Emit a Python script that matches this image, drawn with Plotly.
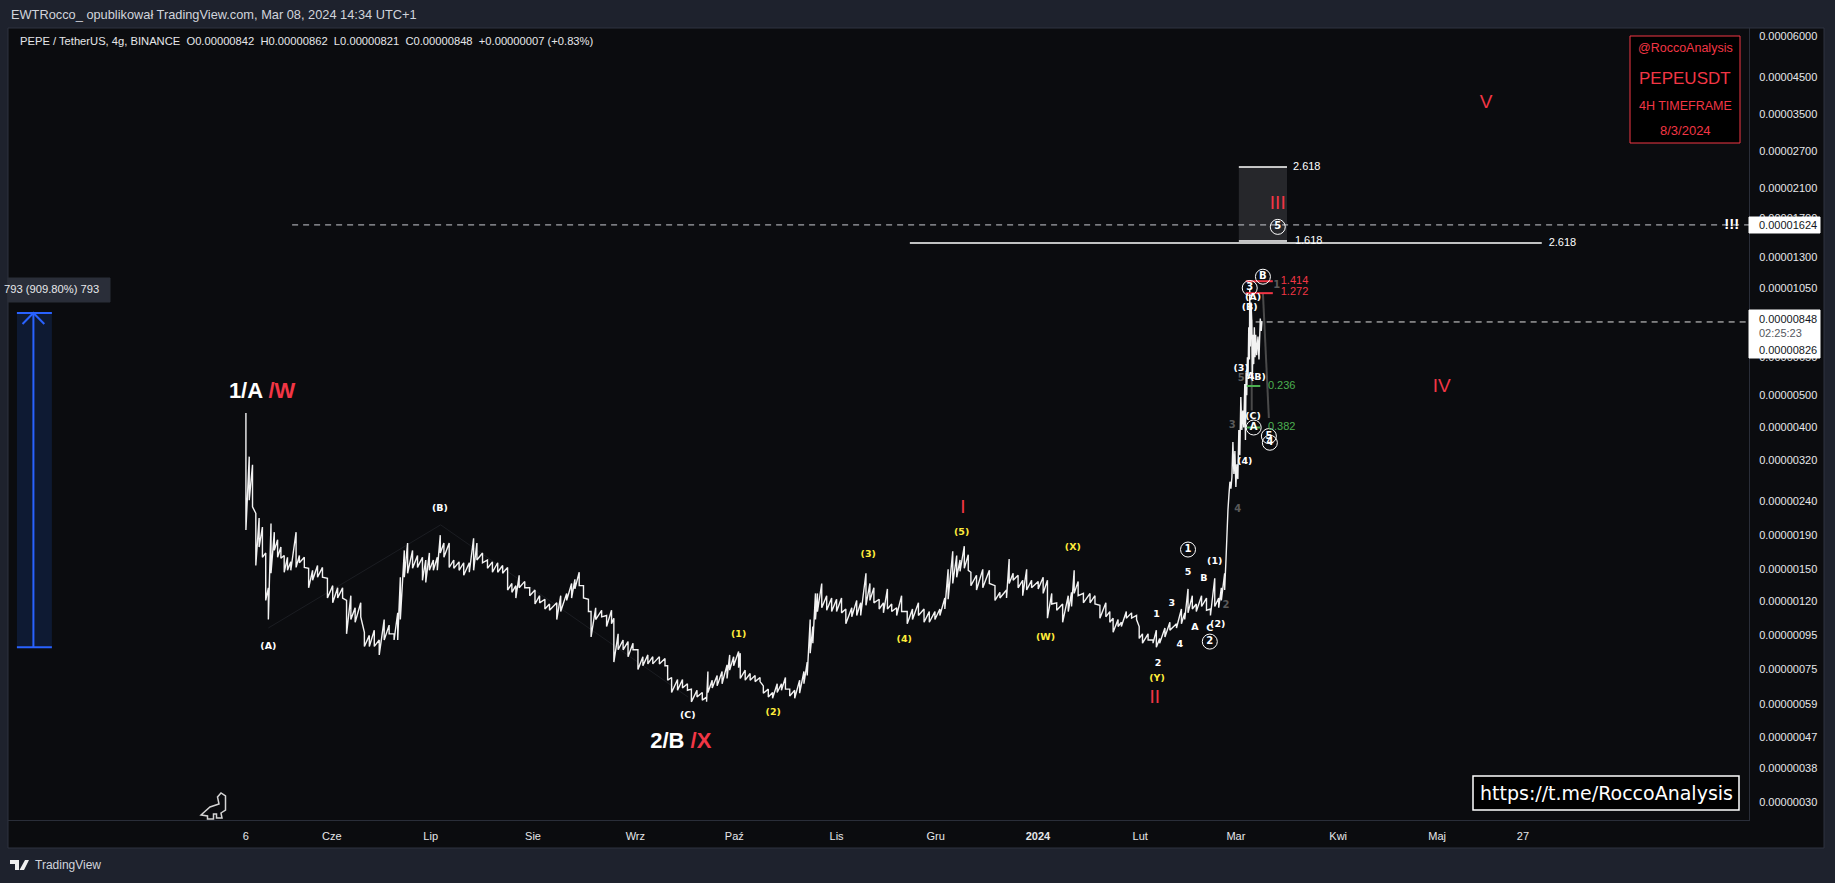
"""PEPE / TetherUS 4h Elliott wave chart, TradingView dark layout."""
import pandas as pd
import plotly.graph_objects as go

# Colors
PAGE_COLOR = "#1e222d"
PANEL_COLOR = "#0b0c0f"
AXIS_COLOR = "#2a2e39"
WHITE = "#ffffff"
TEXT = "#e6e7ea"
RED = "#f23645"
GREEN = "#4caf50"
YELLOW = "#ffeb3b"
BLUE = "#2962ff"
FONT = "Liberation Sans"
LABEL_FONT = "DejaVu Sans"

W, H = 1835, 883
PLOT_L, PLOT_R, PLOT_T, PLOT_B = 8, 1749, 28, 820

# all prices are in units of 0.00000001 USDT, days are counted from this date
BASE_DATE = pd.Timestamp("2023-05-06")
RANGE_DAYS = [-72.1, 455.5]
RANGE_LOG = [1.4232, 3.802]

tick_dates = ["2023-05-06", "2023-06-01", "2023-07-01", "2023-08-01", "2023-09-01", "2023-10-01", "2023-11-01",
              "2023-12-01", "2024-01-01", "2024-02-01", "2024-03-01", "2024-04-01", "2024-05-01", "2024-05-27"]
tick_names = ["6", "Cze", "Lip", "Sie", "Wrz", "Paź", "Lis", "Gru", "<b>2024</b>", "Lut", "Mar", "Kwi", "Maj", "27"]

price_ticks = [6000, 4500, 3500, 2700, 2100, 1700, 1300, 1050, 650, 500, 400, 320, 240, 190, 150, 120, 95, 75, 59, 47, 38, 30]
price_names = ["0.00006000", "0.00004500", "0.00003500", "0.00002700", "0.00002100", "0.00001700", "0.00001300",
               "0.00001050", "0.00000650", "0.00000500", "0.00000400", "0.00000320", "0.00000240", "0.00000190",
               "0.00000150", "0.00000120", "0.00000095", "0.00000075", "0.00000059", "0.00000047", "0.00000038",
               "0.00000030"]

# swing bars: day, high, low
bar_day = [0, 1, 2, 3, 4, 5, 6, 6.8, 7.6, 8.6, 9.6, 10.6, 11.6, 12.6, 13.6, 15.2, 16.2, 17.7, 19, 20.2, 21.7, 23.2,
           24.7, 26.3, 27.8, 29.3, 30.5, 31.8, 33.1, 34.8, 35.9, 37.4, 38.9, 40.4, 41.9, 43.4, 44.9, 46, 46.8, 48,
           49, 50.5, 52, 53.5, 54.5, 55.6, 56.8, 58, 58.9, 60, 61.6, 63, 64.6, 66, 67.7, 69, 70, 71.7, 73.2, 74.7,
           76.3, 77.8, 79.3, 80.6, 81.8, 82.8, 84.5, 86, 87.6, 89, 90.6, 92, 94.2, 95.4, 97.2, 98.7, 99.7, 101,
           102.3, 103.8, 104.6, 106, 107.8, 109.3, 110.8, 111.5, 112.8, 114.3, 115.8, 117.3, 118.8, 120.3, 121.8,
           123.3, 125.3, 127, 127.8, 129, 130.8, 132.3, 133.8, 135, 136.7, 138.3, 139.6, 140, 141.3, 142.8, 144.3,
           145.8, 146.6, 147.8, 149.3, 149.8, 151.3, 152.8, 154.3, 155.8, 156.8, 158.3, 159.6, 161, 162.3, 163.5,
           164.8, 166.3, 167.8, 169.1, 170.1, 171, 171.8, 172.6, 173.2, 174.5, 176, 177.5, 179, 180.5, 181.8, 183.6,
           185.1, 186.3, 187.9, 189.1, 190.3, 191.9, 193.2, 194.4, 195.7, 197.2, 198.7, 200.4, 202, 203.8, 205.5,
           207.1, 208.8, 210.3, 211.8, 212.8, 214.2, 215.4, 216.4, 217.7, 218.9, 219.7, 221.4, 223.3, 225.3, 227,
           228.5, 230.5, 231.3, 232.5, 234, 235.4, 236.6, 238.1, 240.1, 241.6, 242.9, 244.2, 245.7, 247.5, 249.2,
           250.2, 251, 252.2, 253.8, 255.8, 257.3, 258.8, 260.6, 261.8, 262.8, 264.3, 265.3, 266.8, 268.4, 269.9,
           270.7, 271.7, 273.4, 274.9, 275.9, 276.9, 278.5, 280, 282, 283.5, 284.5, 285.5, 286.8, 288, 289.6, 291.1,
           292.3, 293.6, 294.8, 295.6, 296.6]
bar_high = [442, 327, 309, 221, 214, 201, 168, 132, 206, 194, 184, 175, 165, 163, 158, 194, 165, 163, 151, 149, 154,
            152, 141, 134, 132, 132, 121, 125, 115, 119, 97, 95, 98.5, 92, 106, 102, 96, 111, 142, 171, 180, 171, 165,
            163, 160, 168, 160, 163, 190, 180, 180, 160, 158, 157, 157, 186, 180, 168, 160, 158, 157, 154, 152, 136,
            134, 144, 138, 132, 130, 125, 122, 118, 119, 125, 127, 136, 140, 147, 134, 122, 112, 115, 113, 109, 113,
            107, 96, 92, 91, 90, 86, 82, 83, 82, 82, 81, 77, 71, 70, 70, 68, 65.5, 65, 64, 62, 74, 69.7, 72, 74, 77.5,
            83, 82, 85, 84, 74.7, 73, 72, 71, 67, 65.5, 64, 68, 68, 71, 65.5, 65, 69.7, 74, 79, 106, 101, 127, 127,
            136, 125, 123, 122, 123, 114, 115, 121, 119, 146, 136, 132, 122, 119, 131, 118, 115, 125, 112, 114, 119,
            114, 112, 112, 114, 123, 150, 170, 165, 160, 176, 166, 147, 144, 150, 149, 134, 128, 130, 161, 146, 144,
            139, 150, 139, 138, 142, 139, 127, 119, 118, 125, 128, 149, 138, 127, 127, 125, 117, 119, 112, 107, 106,
            104, 112, 111, 109, 101, 96, 96, 92, 98.5, 93, 100, 104, 103, 114, 111, 131, 125, 118, 125, 123, 114, 141,
            123, 132, 146]
bar_low = [197, 242, 231, 154, 175, 163, 121, 106, 146, 171, 163, 162, 147, 149, 149, 152, 157, 152, 132, 139, 142,
           142, 123, 119, 123, 123, 96, 106, 104, 108, 88, 88, 88, 83, 92, 96, 92, 92, 106, 142, 146, 151, 152, 139,
           137, 149, 149, 149, 168, 163, 152, 151, 149, 144, 147, 149, 160, 157, 151, 147, 147, 146, 130, 128, 123,
           132, 132, 125, 118, 119, 114, 113, 106, 112, 121, 123, 131, 134, 123, 112, 94, 106, 108, 101, 103, 79, 86,
           86, 82, 86, 75, 77, 78, 78, 78, 77, 69.7, 64, 65, 66, 65, 60, 62, 60.7, 60, 64, 66, 67, 68, 70.5, 74.7, 77,
           76, 70.5, 69.7, 69.7, 69, 69, 63.7, 62, 61.5, 64, 65, 65.5, 62.5, 61.5, 63.7, 68, 72, 84, 90, 106, 112,
           115, 113, 112, 112, 111, 103, 108, 109, 109, 117, 121, 119, 114, 111, 114, 112, 109, 112, 103, 106, 109,
           104, 104, 106, 109, 114, 122, 136, 142, 148, 151, 149, 134, 130, 132, 136, 121, 123, 123, 136, 139, 132,
           125, 130, 132, 131, 127, 107, 118, 113, 104, 112, 116, 127, 125, 119, 119, 118, 107, 108, 104, 97, 101,
           101, 107, 107, 106, 93, 90, 92, 90, 87.5, 90, 94, 98.5, 100, 103, 106, 111, 114, 112, 116, 113, 109, 116,
           115, 121, 130]

# the last rally, read bar by bar
spike_day = [297.0, 297.3, 297.6, 297.9, 298.2, 298.5, 298.8, 299.1, 299.4, 299.7, 300.0, 300.3, 300.6, 300.9, 301.2,
             301.5, 301.8, 302.1, 302.4, 302.7, 302.9, 303.1, 303.3, 303.5, 303.7, 303.9, 304.1, 304.2, 304.4, 304.6,
             304.8, 305.0, 305.2, 305.4, 305.6, 305.8, 306.0, 306.3, 306.7, 307.0, 307.4, 307.7, 307.9]
spike_price = [160, 197, 226, 251, 275, 262, 284, 362, 290, 340, 265, 310, 280, 393, 330, 494, 393, 450, 400, 540, 367,
               586, 500, 650, 570, 800, 640, 1040, 700, 950, 843, 560, 760, 620, 800, 650, 760, 660, 750, 640, 850,
               780, 835]

# dim projection lines
wave_day = [304.8, 304.8, None, 308.2, 310]
wave_price = [843, 450, None, 1013, 427]
abc_day = [6.8, 59, 134]
abc_price = [100, 204, 62]

# horizontal levels: day range and price
last_price = 830
level_day = [14, 455.5]
level_price = 1624
last_day = [306, 455.5]
fib_long_day = [201.2, 392.7]
fib_long_price = 1433
zone_day = [300.9, 315.5]
zone_top = 2425
zone_bottom = 1453
red_fib_day = [303, 311.2]
red_fib_price = [1100, 1013]
green_fib_day = [303.3, 307.4]
green_fib_price = [533, 400]

# measuring arrow on the left
measure_day = [-69.4, -58.8]
measure_mid = -64.4
measure_top = 883
measure_bottom = 87.5
measure_head_day = [-67.7, -64.4, -61.1]
measure_head_price = [818, 883, 818]

red_text = ["V", "III", "IV", "I", "II"]
red_text_day = [375.8, 312.7, 362.4, 217.3, 275.4]
red_text_price = [3777, 1878, 529, 229, 61.5]

big_text = ["<b>1/A <span style='color:#f23645'>/W</span></b>", "<b>2/B <span style='color:#f23645'>/X</span></b>"]
big_text_day = [4.9, 131.8]
big_text_price = [508, 45.4]

yellow_text = ["(1)", "(2)", "(3)", "(4)", "(5)", "(W)", "(X)", "(Y)"]
yellow_text_day = [149.3, 159.8, 188.6, 199.5, 216.9, 242.3, 250.6, 276.1]
yellow_text_price = [95.5, 55.5, 166, 92.5, 194, 93.5, 174, 70.5]

white_text = ["(A)", "(B)", "(C)", "1", "2", "3", "4", "5", "A", "B", "C", "(2)", "(1)", "(4)", "(3)", "(B)", "A",
              "(C)", "(B)", "(A)"]
white_text_day = [6.8, 58.8, 133.9, 276, 276.4, 280.6, 283, 285.5, 287.6, 290.3, 292.1, 294.5, 293.6, 302.7, 301.6,
                  306.7, 304.5, 305.2, 304.2, 305.2]
white_text_price = [88, 229, 54.6, 110, 78, 118, 89, 147, 100, 141, 99.5, 102.5, 158, 316, 600, 565, 570, 431, 915, 980]

grey_text = ["2", "4", "3", "5", "1"]
grey_text_day = [297, 300.6, 298.9, 301.6, 312.4]
grey_text_price = [116.5, 227, 406, 560, 1065]

circle_text = ["1", "2", "A", "5", "4", "3", "B", "5"]
circle_text_day = [285.5, 292.1, 305.4, 310, 310.3, 304.2, 308.2, 312.7]
circle_text_price = [172, 91, 400, 377, 360, 1050, 1135, 1602]

red_fib_text = ["1.414", "1.272"]
red_fib_text_day = [313.6, 313.6]
red_fib_text_price = [1100, 1020]
green_fib_text = ["0.236", "0.382"]
green_fib_text_day = [309.7, 309.7]
green_fib_text_price = [533, 400]
white_fib_text = ["2.618", "1.618", "2.618"]
white_fib_text_day = [317.3, 317.9, 394.8]
white_fib_text_price = [2425, 1453, 1433]
alert_text_day = [450.3]
alert_text_price = [1624]

header_text = "EWTRocco_ opublikował TradingView.com, Mar 08, 2024 14:34 UTC+1"
legend_text = ("PEPE / TetherUS, 4g, BINANCE\u00a0\u00a0O0.00000842\u00a0\u00a0H0.00000862\u00a0\u00a0L0.00000821"
               "\u00a0\u00a0C0.00000848\u00a0\u00a0+0.00000007 (+0.83%)")
measure_text = "793 (909.80%) 793"
box_text = ["@RoccoAnalysis", "PEPEUSDT", "4H TIMEFRAME", "8/3/2024"]
link_text = "https://t.me/RoccoAnalysis"


def to_date(days):
    return [None if d is None else BASE_DATE + pd.to_timedelta(d, unit="D") for d in days]


def paper_x(px):
    return (px - PLOT_L) / (PLOT_R - PLOT_L)


def paper_y(px):
    return 1 - (px - PLOT_T) / (PLOT_B - PLOT_T)


def text_trace(texts, days, prices, color, size, bold=False, family=LABEL_FONT, position="middle center"):
    if bold:
        texts = [f"<b>{t}</b>" for t in texts]
    return go.Scatter(x=to_date(days), y=prices, mode="text", text=texts, textposition=position,
                      textfont=dict(color=color, size=size, family=family), hoverinfo="skip", cliponaxis=False)


def segment(days, prices, color, width=1, dash=None):
    return go.Scatter(x=to_date(days), y=prices, mode="lines", line=dict(color=color, width=width, dash=dash),
                      hoverinfo="skip", connectgaps=False)


def rect_trace(days, top, bottom, color):
    xs = [days[0], days[1], days[1], days[0], days[0]]
    ys = [top, top, bottom, bottom, top]
    return go.Scatter(x=to_date(xs), y=ys, mode="lines", line=dict(width=0), fill="toself", fillcolor=color,
                      hoverinfo="skip")


def note(text, px, py, size=11.2, color=TEXT, anchor="left", family=FONT):
    return dict(text=text, xref="paper", yref="paper", x=paper_x(px), y=paper_y(py), xanchor=anchor, yanchor="middle",
                showarrow=False, font=dict(size=size, color=color, family=family))


def box(x0, y0, x1, y1, fill, line=None, width=1):
    return dict(type="rect", xref="paper", yref="paper", x0=paper_x(x0), x1=paper_x(x1), y0=paper_y(y0), y1=paper_y(y1),
                fillcolor=fill, line=dict(color=line or fill, width=width), layer="above")


# high and low of each swing joined into one continuous trace
path_day, path_price = [], []
for d, hi, lo in zip(bar_day, bar_high, bar_low, strict=True):
    path_day += [d, d]
    path_price += [hi, lo]
path_day += spike_day
path_price += spike_price

fig = go.Figure()
fig.add_trace(rect_trace(measure_day, measure_top, measure_bottom, "#0e1a33"))
fig.add_trace(rect_trace(zone_day, zone_top, zone_bottom, "#26272b"))
fig.add_trace(segment(abc_day, abc_price, "#1b1d22"))
fig.add_trace(segment(wave_day, wave_price, "#4a4a4a", width=2))
fig.add_trace(segment(path_day, path_price, "#f2f2f2", width=1.4))

fig.add_trace(segment(level_day, [level_price, level_price], "#c9cbd1", width=1, dash="6px,5px"))
fig.add_trace(segment(last_day, [last_price, last_price], "#e0e0e0", width=1, dash="6px,5px"))
fig.add_trace(segment(fib_long_day, [fib_long_price, fib_long_price], WHITE, width=1.5))
fig.add_trace(segment(zone_day, [zone_top, zone_top], WHITE, width=1.5))
fig.add_trace(segment(zone_day, [zone_bottom, zone_bottom], WHITE, width=1.5))
for p in red_fib_price:
    fig.add_trace(segment(red_fib_day, [p, p], RED, width=2))
for p in green_fib_price:
    fig.add_trace(segment(green_fib_day, [p, p], GREEN, width=2))

for t in (measure_top, measure_bottom):
    fig.add_trace(segment(measure_day, [t, t], BLUE, width=2))
fig.add_trace(segment([measure_mid, measure_mid], [measure_top, measure_bottom], BLUE, width=2))
fig.add_trace(segment(measure_head_day, measure_head_price, BLUE, width=2))

fig.add_trace(text_trace(red_text, red_text_day, red_text_price, RED, 19, family=FONT))
fig.add_trace(text_trace(big_text, big_text_day, big_text_price, WHITE, 22, family=FONT))
fig.add_trace(text_trace(yellow_text, yellow_text_day, yellow_text_price, YELLOW, 9.5, bold=True))
fig.add_trace(text_trace(white_text, white_text_day, white_text_price, WHITE, 9.5, bold=True))
fig.add_trace(text_trace(grey_text, grey_text_day, grey_text_price, "#5a5a5a", 10, bold=True))
fig.add_trace(go.Scatter(x=to_date(circle_text_day), y=circle_text_price, mode="markers+text",
                         text=[f"<b>{t}</b>" for t in circle_text], textposition="middle center",
                         textfont=dict(color=WHITE, size=10, family=LABEL_FONT),
                         marker=dict(symbol="circle-open", size=15, color=WHITE, line=dict(color=WHITE, width=1)),
                         hoverinfo="skip"))
fig.add_trace(text_trace(red_fib_text, red_fib_text_day, red_fib_text_price, RED, 11, family=FONT,
                         position="middle right"))
fig.add_trace(text_trace(green_fib_text, green_fib_text_day, green_fib_text_price, GREEN, 11, family=FONT,
                         position="middle right"))
fig.add_trace(text_trace(white_fib_text, white_fib_text_day, white_fib_text_price, WHITE, 11, family=FONT,
                         position="middle right"))
fig.add_trace(text_trace(["!!!"], alert_text_day, alert_text_price, WHITE, 15, bold=True, family=FONT))

shapes = [
    # chart panel on the page background
    dict(type="rect", xref="paper", yref="paper", x0=paper_x(8), x1=paper_x(1824), y0=paper_y(28), y1=paper_y(848),
         fillcolor=PANEL_COLOR, line=dict(color="#2f3340", width=1), layer="below"),
    box(8, 278, 110, 302, "#2a2e39"),
    box(1630, 36, 1740, 143, "#000000", RED, 1),
    box(1473, 776, 1739, 810, "#000000", WHITE, 1.5),
    box(1749, 217, 1820, 233, WHITE),
    box(1749, 310, 1820, 358, WHITE),
    # dino
    dict(type="path", xsizemode="pixel", ysizemode="pixel", xref="paper", yref="paper", xanchor=paper_x(201),
         yanchor=paper_y(793), path="M0,-22 L9,-14 L18,-11 L16.5,-4 L20,0 L24.5,-3 L24.5,-17 L20,-20 L21,-25 L15.5,-25 "
         "L15.5,-21 L12.5,-21 L12.5,-26 L6.5,-26 L6.5,-23 Z", line=dict(color="#d4d4d4", width=1.5), layer="above"),
    # TradingView logo
    dict(type="path", xsizemode="pixel", ysizemode="pixel", xref="paper", yref="paper", xanchor=paper_x(10),
         yanchor=paper_y(860), path="M0,0 L9,0 L9,-10 L5,-10 L5,-4 L0,-4 Z M14,-10 L9.5,-10 L15,0 L19,0 Z M10,-2 "
         "A2,2 0 1 0 14,-2 A2,2 0 1 0 10,-2 Z", fillcolor="#f0f0f0", line=dict(width=0), layer="above"),
]

annotations = [
    note(header_text, 9, 15, 12.8, "#d1d4dc"),
    note(legend_text, 18, 41),
    note(measure_text, 101, 289, color=TEXT, anchor="right"),
    note(box_text[0], 1685, 48, 12.5, RED, "center"),
    note(box_text[1], 1685, 78, 17, RED, "center"),
    note(box_text[2], 1685, 106, 12.5, RED, "center"),
    note(box_text[3], 1685, 130, 13, RED, "center"),
    note(link_text, 1606, 793, 19, WHITE, "center", LABEL_FONT),
    note("0.00001624", 1757, 225, 11, "#131722"),
    note("0.00000848", 1757, 319, 11, "#131722"),
    note("02:25:23", 1757, 333, 11, "#555860"),
    note("0.00000826", 1757, 350, 11, "#131722"),
    note("TradingView", 33, 865, 12, "#d1d4dc"),
]

fig.update_layout(
    width=W, height=H,
    margin=dict(l=PLOT_L, r=W - PLOT_R, t=PLOT_T, b=H - PLOT_B, pad=0),
    paper_bgcolor=PAGE_COLOR,
    plot_bgcolor="rgba(0,0,0,0)",
    showlegend=False,
    shapes=shapes,
    annotations=annotations,
    font=dict(family=FONT, color=TEXT, size=11),
    xaxis=dict(type="date", range=to_date(RANGE_DAYS), tickvals=tick_dates, ticktext=tick_names, tickangle=0,
               tickfont=dict(size=11, color=TEXT), showgrid=False, zeroline=False, showline=True, linecolor=AXIS_COLOR,
               linewidth=1, ticks="outside", ticklen=6, tickcolor="rgba(0,0,0,0)"),
    yaxis=dict(type="log", range=RANGE_LOG, side="right", tickmode="array", tickvals=price_ticks, ticktext=price_names,
               tickfont=dict(size=11, color=TEXT), showgrid=False, zeroline=False, showline=True, linecolor=AXIS_COLOR,
               linewidth=1, ticks="outside", ticklen=7, tickcolor="rgba(0,0,0,0)"),
)

fig.write_html("out.html", config={"displayModeBar": False},
               post_script="document.body.style.margin='0';document.body.style.overflow='hidden';")
